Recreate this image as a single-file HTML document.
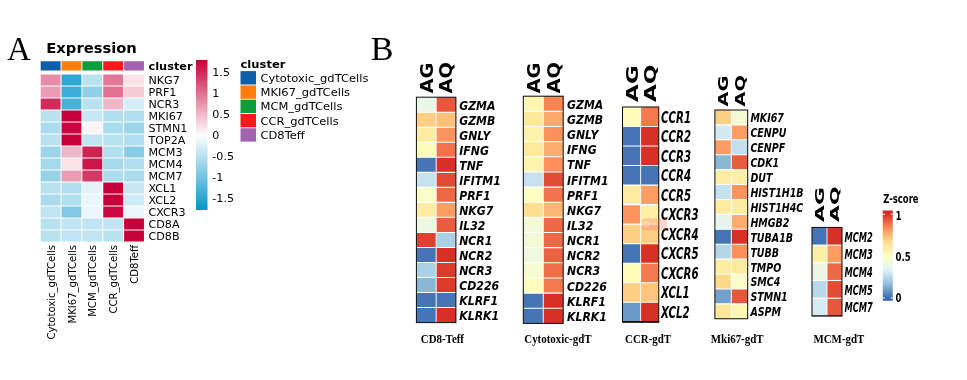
<!DOCTYPE html>
<html lang="en"><head><meta charset="utf-8"><title>Figure</title>
<style>
html,body{margin:0;padding:0;background:#fff;}
body{width:967px;height:380px;overflow:hidden;}
svg{display:block;}
text{white-space:pre;}
</style></head><body>
<svg width="967" height="380" viewBox="0 0 967 380">
<rect width="967" height="380" fill="#ffffff"/>
<text transform="translate(6.90,59.60)" font-family='"Liberation Serif", "DejaVu Serif", serif' font-size="33" font-weight="normal" font-style="normal" text-anchor="start" fill="#000" >A</text>
<text transform="translate(46.30,52.50) scale(1.0750,1)" font-family='"DejaVu Sans", "Liberation Sans", sans-serif' font-size="13.7" font-weight="bold" font-style="normal" text-anchor="start" fill="#000" >Expression</text>
<rect x="40.70" y="61.25" width="19.85" height="9.25" fill="#0e5fa9" />
<rect x="61.55" y="61.25" width="19.85" height="9.25" fill="#ff7f0e" />
<rect x="82.40" y="61.25" width="19.85" height="9.25" fill="#0f9d3c" />
<rect x="103.25" y="61.25" width="19.85" height="9.25" fill="#fa1a1c" />
<rect x="124.10" y="61.25" width="19.85" height="9.25" fill="#a362b0" />
<text transform="translate(148.50,69.90) scale(1.0500,1)" font-family='"DejaVu Sans", "Liberation Sans", sans-serif' font-size="10.8" font-weight="bold" font-style="normal" text-anchor="start" fill="#000" >cluster</text>
<rect x="40.70" y="74.50" width="19.85" height="11.00" fill="#e68ea7" />
<rect x="61.55" y="74.50" width="19.85" height="11.00" fill="#2ea7d3" />
<rect x="82.40" y="74.50" width="19.85" height="11.00" fill="#b9e2f0" />
<rect x="103.25" y="74.50" width="19.85" height="11.00" fill="#e17896" />
<rect x="124.10" y="74.50" width="19.85" height="11.00" fill="#f9e3e9" />
<text transform="translate(148.50,84.10) scale(1.0300,1)" font-family='"DejaVu Sans", "Liberation Sans", sans-serif' font-size="10.8" font-weight="normal" font-style="normal" text-anchor="start" fill="#000" >NKG7</text>
<rect x="40.70" y="86.50" width="19.85" height="11.00" fill="#e99cb2" />
<rect x="61.55" y="86.50" width="19.85" height="11.00" fill="#3cadd6" />
<rect x="82.40" y="86.50" width="19.85" height="11.00" fill="#8fd0e7" />
<rect x="103.25" y="86.50" width="19.85" height="11.00" fill="#e07191" />
<rect x="124.10" y="86.50" width="19.85" height="11.00" fill="#f4cdd8" />
<text transform="translate(148.50,96.10) scale(1.0300,1)" font-family='"DejaVu Sans", "Liberation Sans", sans-serif' font-size="10.8" font-weight="normal" font-style="normal" text-anchor="start" fill="#000" >PRF1</text>
<rect x="40.70" y="98.50" width="19.85" height="11.00" fill="#d02b5a" />
<rect x="61.55" y="98.50" width="19.85" height="11.00" fill="#4ab2d9" />
<rect x="82.40" y="98.50" width="19.85" height="11.00" fill="#b9e2f0" />
<rect x="103.25" y="98.50" width="19.85" height="11.00" fill="#efb8c8" />
<rect x="124.10" y="98.50" width="19.85" height="11.00" fill="#d5edf6" />
<text transform="translate(148.50,108.10) scale(1.0300,1)" font-family='"DejaVu Sans", "Liberation Sans", sans-serif' font-size="10.8" font-weight="normal" font-style="normal" text-anchor="start" fill="#000" >NCR3</text>
<rect x="40.70" y="110.50" width="19.85" height="11.00" fill="#b9e2f0" />
<rect x="61.55" y="110.50" width="19.85" height="11.00" fill="#c70039" />
<rect x="82.40" y="110.50" width="19.85" height="11.00" fill="#c7e7f3" />
<rect x="103.25" y="110.50" width="19.85" height="11.00" fill="#b2dfef" />
<rect x="124.10" y="110.50" width="19.85" height="11.00" fill="#b2dfef" />
<text transform="translate(148.50,120.10) scale(1.0300,1)" font-family='"DejaVu Sans", "Liberation Sans", sans-serif' font-size="10.8" font-weight="normal" font-style="normal" text-anchor="start" fill="#000" >MKI67</text>
<rect x="40.70" y="122.50" width="19.85" height="11.00" fill="#abdced" />
<rect x="61.55" y="122.50" width="19.85" height="11.00" fill="#c9073e" />
<rect x="82.40" y="122.50" width="19.85" height="11.00" fill="#fdf4f6" />
<rect x="103.25" y="122.50" width="19.85" height="11.00" fill="#abdced" />
<rect x="124.10" y="122.50" width="19.85" height="11.00" fill="#9dd6ea" />
<text transform="translate(148.50,132.10) scale(1.0300,1)" font-family='"DejaVu Sans", "Liberation Sans", sans-serif' font-size="10.8" font-weight="normal" font-style="normal" text-anchor="start" fill="#000" >STMN1</text>
<rect x="40.70" y="134.50" width="19.85" height="11.00" fill="#b9e2f0" />
<rect x="61.55" y="134.50" width="19.85" height="11.00" fill="#c70039" />
<rect x="82.40" y="134.50" width="19.85" height="11.00" fill="#c0e4f2" />
<rect x="103.25" y="134.50" width="19.85" height="11.00" fill="#b9e2f0" />
<rect x="124.10" y="134.50" width="19.85" height="11.00" fill="#b2dfef" />
<text transform="translate(148.50,144.10) scale(1.0300,1)" font-family='"DejaVu Sans", "Liberation Sans", sans-serif' font-size="10.8" font-weight="normal" font-style="normal" text-anchor="start" fill="#000" >TOP2A</text>
<rect x="40.70" y="146.50" width="19.85" height="11.00" fill="#9dd6ea" />
<rect x="61.55" y="146.50" width="19.85" height="11.00" fill="#efb8c8" />
<rect x="82.40" y="146.50" width="19.85" height="11.00" fill="#cf2354" />
<rect x="103.25" y="146.50" width="19.85" height="11.00" fill="#b2dfef" />
<rect x="124.10" y="146.50" width="19.85" height="11.00" fill="#88cde6" />
<text transform="translate(148.50,156.10) scale(1.0300,1)" font-family='"DejaVu Sans", "Liberation Sans", sans-serif' font-size="10.8" font-weight="normal" font-style="normal" text-anchor="start" fill="#000" >MCM3</text>
<rect x="40.70" y="158.50" width="19.85" height="11.00" fill="#a4d9ec" />
<rect x="61.55" y="158.50" width="19.85" height="11.00" fill="#f9e3e9" />
<rect x="82.40" y="158.50" width="19.85" height="11.00" fill="#cc154a" />
<rect x="103.25" y="158.50" width="19.85" height="11.00" fill="#a4d9ec" />
<rect x="124.10" y="158.50" width="19.85" height="11.00" fill="#b2dfef" />
<text transform="translate(148.50,168.10) scale(1.0300,1)" font-family='"DejaVu Sans", "Liberation Sans", sans-serif' font-size="10.8" font-weight="normal" font-style="normal" text-anchor="start" fill="#000" >MCM4</text>
<rect x="40.70" y="170.50" width="19.85" height="11.00" fill="#96d3e9" />
<rect x="61.55" y="170.50" width="19.85" height="11.00" fill="#e99cb2" />
<rect x="82.40" y="170.50" width="19.85" height="11.00" fill="#d33965" />
<rect x="103.25" y="170.50" width="19.85" height="11.00" fill="#abdced" />
<rect x="124.10" y="170.50" width="19.85" height="11.00" fill="#abdced" />
<text transform="translate(148.50,180.10) scale(1.0300,1)" font-family='"DejaVu Sans", "Liberation Sans", sans-serif' font-size="10.8" font-weight="normal" font-style="normal" text-anchor="start" fill="#000" >MCM7</text>
<rect x="40.70" y="182.50" width="19.85" height="11.00" fill="#b9e2f0" />
<rect x="61.55" y="182.50" width="19.85" height="11.00" fill="#b2dfef" />
<rect x="82.40" y="182.50" width="19.85" height="11.00" fill="#e3f3f9" />
<rect x="103.25" y="182.50" width="19.85" height="11.00" fill="#c70039" />
<rect x="124.10" y="182.50" width="19.85" height="11.00" fill="#c7e7f3" />
<text transform="translate(148.50,192.10) scale(1.0300,1)" font-family='"DejaVu Sans", "Liberation Sans", sans-serif' font-size="10.8" font-weight="normal" font-style="normal" text-anchor="start" fill="#000" >XCL1</text>
<rect x="40.70" y="194.50" width="19.85" height="11.00" fill="#abdced" />
<rect x="61.55" y="194.50" width="19.85" height="11.00" fill="#b2dfef" />
<rect x="82.40" y="194.50" width="19.85" height="11.00" fill="#eaf6fb" />
<rect x="103.25" y="194.50" width="19.85" height="11.00" fill="#c70039" />
<rect x="124.10" y="194.50" width="19.85" height="11.00" fill="#ceeaf5" />
<text transform="translate(148.50,204.10) scale(1.0300,1)" font-family='"DejaVu Sans", "Liberation Sans", sans-serif' font-size="10.8" font-weight="normal" font-style="normal" text-anchor="start" fill="#000" >XCL2</text>
<rect x="40.70" y="206.50" width="19.85" height="11.00" fill="#c0e4f2" />
<rect x="61.55" y="206.50" width="19.85" height="11.00" fill="#82cae4" />
<rect x="82.40" y="206.50" width="19.85" height="11.00" fill="#eaf6fb" />
<rect x="103.25" y="206.50" width="19.85" height="11.00" fill="#c9073e" />
<rect x="124.10" y="206.50" width="19.85" height="11.00" fill="#eaf6fb" />
<text transform="translate(148.50,216.10) scale(1.0300,1)" font-family='"DejaVu Sans", "Liberation Sans", sans-serif' font-size="10.8" font-weight="normal" font-style="normal" text-anchor="start" fill="#000" >CXCR3</text>
<rect x="40.70" y="218.50" width="19.85" height="11.00" fill="#b9e2f0" />
<rect x="61.55" y="218.50" width="19.85" height="11.00" fill="#c0e4f2" />
<rect x="82.40" y="218.50" width="19.85" height="11.00" fill="#c0e4f2" />
<rect x="103.25" y="218.50" width="19.85" height="11.00" fill="#c0e4f2" />
<rect x="124.10" y="218.50" width="19.85" height="11.00" fill="#c70039" />
<text transform="translate(148.50,228.10) scale(1.0300,1)" font-family='"DejaVu Sans", "Liberation Sans", sans-serif' font-size="10.8" font-weight="normal" font-style="normal" text-anchor="start" fill="#000" >CD8A</text>
<rect x="40.70" y="230.50" width="19.85" height="11.00" fill="#b9e2f0" />
<rect x="61.55" y="230.50" width="19.85" height="11.00" fill="#c0e4f2" />
<rect x="82.40" y="230.50" width="19.85" height="11.00" fill="#c0e4f2" />
<rect x="103.25" y="230.50" width="19.85" height="11.00" fill="#b9e2f0" />
<rect x="124.10" y="230.50" width="19.85" height="11.00" fill="#c70039" />
<text transform="translate(148.50,240.10) scale(1.0300,1)" font-family='"DejaVu Sans", "Liberation Sans", sans-serif' font-size="10.8" font-weight="normal" font-style="normal" text-anchor="start" fill="#000" >CD8B</text>
<text transform="translate(54.73,245.00) rotate(-90) scale(1.0500,1)" font-family='"DejaVu Sans", "Liberation Sans", sans-serif' font-size="9.6" font-weight="normal" font-style="normal" text-anchor="end" fill="#000" >Cytotoxic_gdTCells</text>
<text transform="translate(75.58,245.00) rotate(-90) scale(1.0500,1)" font-family='"DejaVu Sans", "Liberation Sans", sans-serif' font-size="9.6" font-weight="normal" font-style="normal" text-anchor="end" fill="#000" >MKI67_gdTCells</text>
<text transform="translate(96.42,245.00) rotate(-90) scale(1.0500,1)" font-family='"DejaVu Sans", "Liberation Sans", sans-serif' font-size="9.6" font-weight="normal" font-style="normal" text-anchor="end" fill="#000" >MCM_gdTCells</text>
<text transform="translate(117.27,245.00) rotate(-90) scale(1.0500,1)" font-family='"DejaVu Sans", "Liberation Sans", sans-serif' font-size="9.6" font-weight="normal" font-style="normal" text-anchor="end" fill="#000" >CCR_gdTCells</text>
<text transform="translate(138.12,245.00) rotate(-90) scale(1.0500,1)" font-family='"DejaVu Sans", "Liberation Sans", sans-serif' font-size="9.6" font-weight="normal" font-style="normal" text-anchor="end" fill="#000" >CD8Teff</text>
<defs><linearGradient id="ga" x1="0" y1="0" x2="0" y2="1"><stop offset="0" stop-color="#c70039"/><stop offset="0.5" stop-color="#ffffff"/><stop offset="1" stop-color="#0495ca"/></linearGradient></defs>
<rect x="196.00" y="60.00" width="11.50" height="150.00" fill="url(#ga)" />
<text transform="translate(212.30,76.30) scale(1.0300,1)" font-family='"DejaVu Sans", "Liberation Sans", sans-serif' font-size="10.8" font-weight="normal" font-style="normal" text-anchor="start" fill="#000" >1.5</text>
<text transform="translate(212.30,97.30) scale(1.0300,1)" font-family='"DejaVu Sans", "Liberation Sans", sans-serif' font-size="10.8" font-weight="normal" font-style="normal" text-anchor="start" fill="#000" >1</text>
<text transform="translate(212.30,118.30) scale(1.0300,1)" font-family='"DejaVu Sans", "Liberation Sans", sans-serif' font-size="10.8" font-weight="normal" font-style="normal" text-anchor="start" fill="#000" >0.5</text>
<text transform="translate(212.30,139.20) scale(1.0300,1)" font-family='"DejaVu Sans", "Liberation Sans", sans-serif' font-size="10.8" font-weight="normal" font-style="normal" text-anchor="start" fill="#000" >0</text>
<text transform="translate(212.30,160.10) scale(1.0300,1)" font-family='"DejaVu Sans", "Liberation Sans", sans-serif' font-size="10.8" font-weight="normal" font-style="normal" text-anchor="start" fill="#000" >-0.5</text>
<text transform="translate(212.30,181.10) scale(1.0300,1)" font-family='"DejaVu Sans", "Liberation Sans", sans-serif' font-size="10.8" font-weight="normal" font-style="normal" text-anchor="start" fill="#000" >-1</text>
<text transform="translate(212.30,202.10) scale(1.0300,1)" font-family='"DejaVu Sans", "Liberation Sans", sans-serif' font-size="10.8" font-weight="normal" font-style="normal" text-anchor="start" fill="#000" >-1.5</text>
<text transform="translate(240.50,67.50) scale(1.0700,1)" font-family='"DejaVu Sans", "Liberation Sans", sans-serif' font-size="10.8" font-weight="bold" font-style="normal" text-anchor="start" fill="#000" >cluster</text>
<rect x="240.50" y="71.10" width="15.50" height="13.40" fill="#0e5fa9" />
<text transform="translate(260.50,81.85) scale(1.0650,1)" font-family='"DejaVu Sans", "Liberation Sans", sans-serif' font-size="10.8" font-weight="normal" font-style="normal" text-anchor="start" fill="#000" >Cytotoxic_gdTCells</text>
<rect x="240.50" y="85.38" width="15.50" height="13.40" fill="#ff7f0e" />
<text transform="translate(260.50,96.17) scale(1.0650,1)" font-family='"DejaVu Sans", "Liberation Sans", sans-serif' font-size="10.8" font-weight="normal" font-style="normal" text-anchor="start" fill="#000" >MKI67_gdTCells</text>
<rect x="240.50" y="99.66" width="15.50" height="13.40" fill="#0f9d3c" />
<text transform="translate(260.50,110.49) scale(1.0650,1)" font-family='"DejaVu Sans", "Liberation Sans", sans-serif' font-size="10.8" font-weight="normal" font-style="normal" text-anchor="start" fill="#000" >MCM_gdTCells</text>
<rect x="240.50" y="113.94" width="15.50" height="13.40" fill="#fa1a1c" />
<text transform="translate(260.50,124.81) scale(1.0650,1)" font-family='"DejaVu Sans", "Liberation Sans", sans-serif' font-size="10.8" font-weight="normal" font-style="normal" text-anchor="start" fill="#000" >CCR_gdTCells</text>
<rect x="240.50" y="128.22" width="15.50" height="13.40" fill="#a362b0" />
<text transform="translate(260.50,139.13) scale(1.0650,1)" font-family='"DejaVu Sans", "Liberation Sans", sans-serif' font-size="10.8" font-weight="normal" font-style="normal" text-anchor="start" fill="#000" >CD8Teff</text>
<text transform="translate(370.80,60.20)" font-family='"Liberation Serif", "DejaVu Serif", serif' font-size="34" font-weight="normal" font-style="normal" text-anchor="start" fill="#000" >B</text>
<rect x="416.40" y="97.20" width="19.75" height="15.03" fill="#e9f6e8" />
<rect x="436.15" y="97.20" width="19.75" height="15.03" fill="#e7573c" />
<rect x="416.40" y="112.23" width="19.75" height="15.03" fill="#fecf85" />
<rect x="436.15" y="112.23" width="19.75" height="15.03" fill="#fdc07b" />
<rect x="416.40" y="127.25" width="19.75" height="15.03" fill="#feeca3" />
<rect x="436.15" y="127.25" width="19.75" height="15.03" fill="#fc945d" />
<rect x="416.40" y="142.28" width="19.75" height="15.03" fill="#fffbb9" />
<rect x="436.15" y="142.28" width="19.75" height="15.03" fill="#f2734b" />
<rect x="416.40" y="157.31" width="19.75" height="15.03" fill="#4575b4" />
<rect x="436.15" y="157.31" width="19.75" height="15.03" fill="#d73027" />
<rect x="416.40" y="172.33" width="19.75" height="15.03" fill="#c7e2ef" />
<rect x="436.15" y="172.33" width="19.75" height="15.03" fill="#e24c36" />
<rect x="416.40" y="187.36" width="19.75" height="15.03" fill="#f9fdc9" />
<rect x="436.15" y="187.36" width="19.75" height="15.03" fill="#ed6845" />
<rect x="416.40" y="202.39" width="19.75" height="15.03" fill="#feeca3" />
<rect x="436.15" y="202.39" width="19.75" height="15.03" fill="#fc9e64" />
<rect x="416.40" y="217.41" width="19.75" height="15.03" fill="#ecf8e1" />
<rect x="436.15" y="217.41" width="19.75" height="15.03" fill="#e95d3f" />
<rect x="416.40" y="232.44" width="19.75" height="15.03" fill="#de4130" />
<rect x="436.15" y="232.44" width="19.75" height="15.03" fill="#aad0e4" />
<rect x="416.40" y="247.47" width="19.75" height="15.03" fill="#4575b4" />
<rect x="436.15" y="247.47" width="19.75" height="15.03" fill="#d73027" />
<rect x="416.40" y="262.49" width="19.75" height="15.03" fill="#aad0e4" />
<rect x="436.15" y="262.49" width="19.75" height="15.03" fill="#db3b2d" />
<rect x="416.40" y="277.52" width="19.75" height="15.03" fill="#89b8d7" />
<rect x="436.15" y="277.52" width="19.75" height="15.03" fill="#db3b2d" />
<rect x="416.40" y="292.55" width="19.75" height="15.03" fill="#4575b4" />
<rect x="436.15" y="292.55" width="19.75" height="15.03" fill="#4575b4" />
<rect x="416.40" y="307.57" width="19.75" height="15.03" fill="#4575b4" />
<rect x="436.15" y="307.57" width="19.75" height="15.03" fill="#d73027" />
<line x1="416.4" x2="455.9" y1="112.23" y2="112.23" stroke="#fff" stroke-width="1.1"/>
<line x1="416.4" x2="455.9" y1="127.25" y2="127.25" stroke="#fff" stroke-width="1.1"/>
<line x1="416.4" x2="455.9" y1="142.28" y2="142.28" stroke="#fff" stroke-width="1.1"/>
<line x1="416.4" x2="455.9" y1="157.31" y2="157.31" stroke="#fff" stroke-width="1.1"/>
<line x1="416.4" x2="455.9" y1="172.33" y2="172.33" stroke="#fff" stroke-width="1.1"/>
<line x1="416.4" x2="455.9" y1="187.36" y2="187.36" stroke="#fff" stroke-width="1.1"/>
<line x1="416.4" x2="455.9" y1="202.39" y2="202.39" stroke="#fff" stroke-width="1.1"/>
<line x1="416.4" x2="455.9" y1="217.41" y2="217.41" stroke="#fff" stroke-width="1.1"/>
<line x1="416.4" x2="455.9" y1="232.44" y2="232.44" stroke="#fff" stroke-width="1.1"/>
<line x1="416.4" x2="455.9" y1="247.47" y2="247.47" stroke="#fff" stroke-width="1.1"/>
<line x1="416.4" x2="455.9" y1="262.49" y2="262.49" stroke="#fff" stroke-width="1.1"/>
<line x1="416.4" x2="455.9" y1="277.52" y2="277.52" stroke="#fff" stroke-width="1.1"/>
<line x1="416.4" x2="455.9" y1="292.55" y2="292.55" stroke="#fff" stroke-width="1.1"/>
<line x1="416.4" x2="455.9" y1="307.57" y2="307.57" stroke="#fff" stroke-width="1.1"/>
<line x1="436.15" x2="436.15" y1="97.2" y2="322.6" stroke="#fff" stroke-width="0.9"/>
<rect x="416.4" y="97.2" width="39.5" height="225.40000000000003" fill="none" stroke="#0a0a0a" stroke-width="1"/>
<text transform="translate(459.20,109.68) scale(0.8750,1)" font-family='"DejaVu Sans", "Liberation Sans", sans-serif' font-size="12.5" font-weight="bold" font-style="italic" text-anchor="start" fill="#000" >GZMA</text>
<text transform="translate(459.20,124.70) scale(0.8750,1)" font-family='"DejaVu Sans", "Liberation Sans", sans-serif' font-size="12.5" font-weight="bold" font-style="italic" text-anchor="start" fill="#000" >GZMB</text>
<text transform="translate(459.20,139.73) scale(0.8750,1)" font-family='"DejaVu Sans", "Liberation Sans", sans-serif' font-size="12.5" font-weight="bold" font-style="italic" text-anchor="start" fill="#000" >GNLY</text>
<text transform="translate(459.20,154.76) scale(0.8750,1)" font-family='"DejaVu Sans", "Liberation Sans", sans-serif' font-size="12.5" font-weight="bold" font-style="italic" text-anchor="start" fill="#000" >IFNG</text>
<text transform="translate(459.20,169.78) scale(0.8750,1)" font-family='"DejaVu Sans", "Liberation Sans", sans-serif' font-size="12.5" font-weight="bold" font-style="italic" text-anchor="start" fill="#000" >TNF</text>
<text transform="translate(459.20,184.81) scale(0.8750,1)" font-family='"DejaVu Sans", "Liberation Sans", sans-serif' font-size="12.5" font-weight="bold" font-style="italic" text-anchor="start" fill="#000" >IFITM1</text>
<text transform="translate(459.20,199.84) scale(0.8750,1)" font-family='"DejaVu Sans", "Liberation Sans", sans-serif' font-size="12.5" font-weight="bold" font-style="italic" text-anchor="start" fill="#000" >PRF1</text>
<text transform="translate(459.20,214.86) scale(0.8750,1)" font-family='"DejaVu Sans", "Liberation Sans", sans-serif' font-size="12.5" font-weight="bold" font-style="italic" text-anchor="start" fill="#000" >NKG7</text>
<text transform="translate(459.20,229.89) scale(0.8750,1)" font-family='"DejaVu Sans", "Liberation Sans", sans-serif' font-size="12.5" font-weight="bold" font-style="italic" text-anchor="start" fill="#000" >IL32</text>
<text transform="translate(459.20,244.92) scale(0.8750,1)" font-family='"DejaVu Sans", "Liberation Sans", sans-serif' font-size="12.5" font-weight="bold" font-style="italic" text-anchor="start" fill="#000" >NCR1</text>
<text transform="translate(459.20,259.94) scale(0.8750,1)" font-family='"DejaVu Sans", "Liberation Sans", sans-serif' font-size="12.5" font-weight="bold" font-style="italic" text-anchor="start" fill="#000" >NCR2</text>
<text transform="translate(459.20,274.97) scale(0.8750,1)" font-family='"DejaVu Sans", "Liberation Sans", sans-serif' font-size="12.5" font-weight="bold" font-style="italic" text-anchor="start" fill="#000" >NCR3</text>
<text transform="translate(459.20,290.00) scale(0.8750,1)" font-family='"DejaVu Sans", "Liberation Sans", sans-serif' font-size="12.5" font-weight="bold" font-style="italic" text-anchor="start" fill="#000" >CD226</text>
<text transform="translate(459.20,305.02) scale(0.8750,1)" font-family='"DejaVu Sans", "Liberation Sans", sans-serif' font-size="12.5" font-weight="bold" font-style="italic" text-anchor="start" fill="#000" >KLRF1</text>
<text transform="translate(459.20,320.05) scale(0.8750,1)" font-family='"DejaVu Sans", "Liberation Sans", sans-serif' font-size="12.5" font-weight="bold" font-style="italic" text-anchor="start" fill="#000" >KLRK1</text>
<text transform="translate(432.55,93.30) rotate(-90) scale(1.1200,1)" font-family='"DejaVu Sans", "Liberation Sans", sans-serif' font-size="17.2" font-weight="bold" font-style="normal" text-anchor="start" fill="#000" >AG</text>
<text transform="translate(452.30,93.30) rotate(-90) scale(1.1200,1)" font-family='"DejaVu Sans", "Liberation Sans", sans-serif' font-size="17.2" font-weight="bold" font-style="normal" text-anchor="start" fill="#000" >AQ</text>
<text transform="translate(420.75,343.00) scale(0.9500,1)" font-family='"Liberation Serif", "DejaVu Serif", serif' font-size="11.5" font-weight="bold" font-style="normal" text-anchor="start" fill="#000" >CD8-Teff</text>
<rect x="523.30" y="96.20" width="19.95" height="15.15" fill="#fff6b1" />
<rect x="543.25" y="96.20" width="19.95" height="15.15" fill="#f88454" />
<rect x="523.30" y="111.35" width="19.95" height="15.15" fill="#fee99d" />
<rect x="543.25" y="111.35" width="19.95" height="15.15" fill="#fda86b" />
<rect x="523.30" y="126.49" width="19.95" height="15.15" fill="#fff2ab" />
<rect x="543.25" y="126.49" width="19.95" height="15.15" fill="#fc8f5a" />
<rect x="523.30" y="141.64" width="19.95" height="15.15" fill="#fee99d" />
<rect x="543.25" y="141.64" width="19.95" height="15.15" fill="#fdad6e" />
<rect x="523.30" y="156.79" width="19.95" height="15.15" fill="#fff4ae" />
<rect x="543.25" y="156.79" width="19.95" height="15.15" fill="#fc8f5a" />
<rect x="523.30" y="171.93" width="19.95" height="15.15" fill="#c7e2ef" />
<rect x="543.25" y="171.93" width="19.95" height="15.15" fill="#e24c36" />
<rect x="523.30" y="187.08" width="19.95" height="15.15" fill="#fdfec2" />
<rect x="543.25" y="187.08" width="19.95" height="15.15" fill="#f2734b" />
<rect x="523.30" y="202.23" width="19.95" height="15.15" fill="#fede8f" />
<rect x="543.25" y="202.23" width="19.95" height="15.15" fill="#fdb674" />
<rect x="523.30" y="217.37" width="19.95" height="15.15" fill="#f2fad7" />
<rect x="543.25" y="217.37" width="19.95" height="15.15" fill="#ed6845" />
<rect x="523.30" y="232.52" width="19.95" height="15.15" fill="#f4fbd4" />
<rect x="543.25" y="232.52" width="19.95" height="15.15" fill="#ed6845" />
<rect x="523.30" y="247.67" width="19.95" height="15.15" fill="#eef9de" />
<rect x="543.25" y="247.67" width="19.95" height="15.15" fill="#eb6242" />
<rect x="523.30" y="262.81" width="19.95" height="15.15" fill="#f6fbd0" />
<rect x="543.25" y="262.81" width="19.95" height="15.15" fill="#ef6d48" />
<rect x="523.30" y="277.96" width="19.95" height="15.15" fill="#fffdbc" />
<rect x="543.25" y="277.96" width="19.95" height="15.15" fill="#f4794e" />
<rect x="523.30" y="293.11" width="19.95" height="15.15" fill="#4575b4" />
<rect x="543.25" y="293.11" width="19.95" height="15.15" fill="#d73027" />
<rect x="523.30" y="308.25" width="19.95" height="15.15" fill="#4575b4" />
<rect x="543.25" y="308.25" width="19.95" height="15.15" fill="#d73027" />
<line x1="523.3" x2="563.2" y1="111.35" y2="111.35" stroke="#fff" stroke-width="1.1"/>
<line x1="523.3" x2="563.2" y1="126.49" y2="126.49" stroke="#fff" stroke-width="1.1"/>
<line x1="523.3" x2="563.2" y1="141.64" y2="141.64" stroke="#fff" stroke-width="1.1"/>
<line x1="523.3" x2="563.2" y1="156.79" y2="156.79" stroke="#fff" stroke-width="1.1"/>
<line x1="523.3" x2="563.2" y1="171.93" y2="171.93" stroke="#fff" stroke-width="1.1"/>
<line x1="523.3" x2="563.2" y1="187.08" y2="187.08" stroke="#fff" stroke-width="1.1"/>
<line x1="523.3" x2="563.2" y1="202.23" y2="202.23" stroke="#fff" stroke-width="1.1"/>
<line x1="523.3" x2="563.2" y1="217.37" y2="217.37" stroke="#fff" stroke-width="1.1"/>
<line x1="523.3" x2="563.2" y1="232.52" y2="232.52" stroke="#fff" stroke-width="1.1"/>
<line x1="523.3" x2="563.2" y1="247.67" y2="247.67" stroke="#fff" stroke-width="1.1"/>
<line x1="523.3" x2="563.2" y1="262.81" y2="262.81" stroke="#fff" stroke-width="1.1"/>
<line x1="523.3" x2="563.2" y1="277.96" y2="277.96" stroke="#fff" stroke-width="1.1"/>
<line x1="523.3" x2="563.2" y1="293.11" y2="293.11" stroke="#fff" stroke-width="1.1"/>
<line x1="523.3" x2="563.2" y1="308.25" y2="308.25" stroke="#fff" stroke-width="1.1"/>
<line x1="543.25" x2="543.25" y1="96.2" y2="323.4" stroke="#fff" stroke-width="0.9"/>
<rect x="523.3" y="96.2" width="39.90000000000009" height="227.2" fill="none" stroke="#0a0a0a" stroke-width="1"/>
<text transform="translate(567.00,108.84) scale(0.8750,1)" font-family='"DejaVu Sans", "Liberation Sans", sans-serif' font-size="12.5" font-weight="bold" font-style="italic" text-anchor="start" fill="#000" >GZMA</text>
<text transform="translate(567.00,123.98) scale(0.8750,1)" font-family='"DejaVu Sans", "Liberation Sans", sans-serif' font-size="12.5" font-weight="bold" font-style="italic" text-anchor="start" fill="#000" >GZMB</text>
<text transform="translate(567.00,139.13) scale(0.8750,1)" font-family='"DejaVu Sans", "Liberation Sans", sans-serif' font-size="12.5" font-weight="bold" font-style="italic" text-anchor="start" fill="#000" >GNLY</text>
<text transform="translate(567.00,154.28) scale(0.8750,1)" font-family='"DejaVu Sans", "Liberation Sans", sans-serif' font-size="12.5" font-weight="bold" font-style="italic" text-anchor="start" fill="#000" >IFNG</text>
<text transform="translate(567.00,169.42) scale(0.8750,1)" font-family='"DejaVu Sans", "Liberation Sans", sans-serif' font-size="12.5" font-weight="bold" font-style="italic" text-anchor="start" fill="#000" >TNF</text>
<text transform="translate(567.00,184.57) scale(0.8750,1)" font-family='"DejaVu Sans", "Liberation Sans", sans-serif' font-size="12.5" font-weight="bold" font-style="italic" text-anchor="start" fill="#000" >IFITM1</text>
<text transform="translate(567.00,199.72) scale(0.8750,1)" font-family='"DejaVu Sans", "Liberation Sans", sans-serif' font-size="12.5" font-weight="bold" font-style="italic" text-anchor="start" fill="#000" >PRF1</text>
<text transform="translate(567.00,214.86) scale(0.8750,1)" font-family='"DejaVu Sans", "Liberation Sans", sans-serif' font-size="12.5" font-weight="bold" font-style="italic" text-anchor="start" fill="#000" >NKG7</text>
<text transform="translate(567.00,230.01) scale(0.8750,1)" font-family='"DejaVu Sans", "Liberation Sans", sans-serif' font-size="12.5" font-weight="bold" font-style="italic" text-anchor="start" fill="#000" >IL32</text>
<text transform="translate(567.00,245.16) scale(0.8750,1)" font-family='"DejaVu Sans", "Liberation Sans", sans-serif' font-size="12.5" font-weight="bold" font-style="italic" text-anchor="start" fill="#000" >NCR1</text>
<text transform="translate(567.00,260.30) scale(0.8750,1)" font-family='"DejaVu Sans", "Liberation Sans", sans-serif' font-size="12.5" font-weight="bold" font-style="italic" text-anchor="start" fill="#000" >NCR2</text>
<text transform="translate(567.00,275.45) scale(0.8750,1)" font-family='"DejaVu Sans", "Liberation Sans", sans-serif' font-size="12.5" font-weight="bold" font-style="italic" text-anchor="start" fill="#000" >NCR3</text>
<text transform="translate(567.00,290.60) scale(0.8750,1)" font-family='"DejaVu Sans", "Liberation Sans", sans-serif' font-size="12.5" font-weight="bold" font-style="italic" text-anchor="start" fill="#000" >CD226</text>
<text transform="translate(567.00,305.74) scale(0.8750,1)" font-family='"DejaVu Sans", "Liberation Sans", sans-serif' font-size="12.5" font-weight="bold" font-style="italic" text-anchor="start" fill="#000" >KLRF1</text>
<text transform="translate(567.00,320.89) scale(0.8750,1)" font-family='"DejaVu Sans", "Liberation Sans", sans-serif' font-size="12.5" font-weight="bold" font-style="italic" text-anchor="start" fill="#000" >KLRK1</text>
<text transform="translate(539.55,93.30) rotate(-90) scale(1.1200,1)" font-family='"DejaVu Sans", "Liberation Sans", sans-serif' font-size="17.2" font-weight="bold" font-style="normal" text-anchor="start" fill="#000" >AG</text>
<text transform="translate(559.50,93.30) rotate(-90) scale(1.1200,1)" font-family='"DejaVu Sans", "Liberation Sans", sans-serif' font-size="17.2" font-weight="bold" font-style="normal" text-anchor="start" fill="#000" >AQ</text>
<text transform="translate(524.25,343.00) scale(0.9500,1)" font-family='"Liberation Serif", "DejaVu Serif", serif' font-size="11.5" font-weight="bold" font-style="normal" text-anchor="start" fill="#000" >Cytotoxic-gdT</text>
<rect x="622.50" y="107.00" width="18.12" height="19.52" fill="#fffbb9" />
<rect x="640.62" y="107.00" width="18.12" height="19.52" fill="#f4794e" />
<rect x="622.50" y="126.52" width="18.12" height="19.52" fill="#4575b4" />
<rect x="640.62" y="126.52" width="18.12" height="19.52" fill="#d73027" />
<rect x="622.50" y="146.05" width="18.12" height="19.52" fill="#4575b4" />
<rect x="640.62" y="146.05" width="18.12" height="19.52" fill="#d73027" />
<rect x="622.50" y="165.57" width="18.12" height="19.52" fill="#4575b4" />
<rect x="640.62" y="165.57" width="18.12" height="19.52" fill="#4575b4" />
<rect x="622.50" y="185.09" width="18.12" height="19.52" fill="#feeca3" />
<rect x="640.62" y="185.09" width="18.12" height="19.52" fill="#fc9e64" />
<rect x="622.50" y="204.61" width="18.12" height="19.52" fill="#fc945d" />
<rect x="640.62" y="204.61" width="18.12" height="19.52" fill="#fff0a8" />
<rect x="622.50" y="224.14" width="18.12" height="19.52" fill="#fecf85" />
<rect x="640.62" y="224.14" width="18.12" height="19.52" fill="#fecf85" />
<rect x="622.50" y="243.66" width="18.12" height="19.52" fill="#4575b4" />
<rect x="640.62" y="243.66" width="18.12" height="19.52" fill="#d73027" />
<rect x="622.50" y="263.18" width="18.12" height="19.52" fill="#fffbb9" />
<rect x="640.62" y="263.18" width="18.12" height="19.52" fill="#f4794e" />
<rect x="622.50" y="282.70" width="18.12" height="19.52" fill="#fecf85" />
<rect x="640.62" y="282.70" width="18.12" height="19.52" fill="#fdc57e" />
<rect x="622.50" y="302.23" width="18.12" height="19.52" fill="#6999c7" />
<rect x="640.62" y="302.23" width="18.12" height="19.52" fill="#d73027" />
<line x1="622.5" x2="658.75" y1="126.52" y2="126.52" stroke="#fff" stroke-width="1.1"/>
<line x1="622.5" x2="658.75" y1="146.05" y2="146.05" stroke="#fff" stroke-width="1.1"/>
<line x1="622.5" x2="658.75" y1="165.57" y2="165.57" stroke="#fff" stroke-width="1.1"/>
<line x1="622.5" x2="658.75" y1="185.09" y2="185.09" stroke="#fff" stroke-width="1.1"/>
<line x1="622.5" x2="658.75" y1="204.61" y2="204.61" stroke="#fff" stroke-width="1.1"/>
<line x1="622.5" x2="658.75" y1="224.14" y2="224.14" stroke="#fff" stroke-width="1.1"/>
<line x1="622.5" x2="658.75" y1="243.66" y2="243.66" stroke="#fff" stroke-width="1.1"/>
<line x1="622.5" x2="658.75" y1="263.18" y2="263.18" stroke="#fff" stroke-width="1.1"/>
<line x1="622.5" x2="658.75" y1="282.70" y2="282.70" stroke="#fff" stroke-width="1.1"/>
<line x1="622.5" x2="658.75" y1="302.23" y2="302.23" stroke="#fff" stroke-width="1.1"/>
<line x1="640.625" x2="640.625" y1="107" y2="321.75" stroke="#fff" stroke-width="0.9"/>
<rect x="622.5" y="107" width="36.25" height="214.75" fill="none" stroke="#0a0a0a" stroke-width="1"/>
<text transform="translate(661.00,122.65) scale(0.6700,1)" font-family='"DejaVu Sans", "Liberation Sans", sans-serif' font-size="15.3" font-weight="bold" font-style="italic" text-anchor="start" fill="#000" >CCR1</text>
<text transform="translate(661.00,142.17) scale(0.6700,1)" font-family='"DejaVu Sans", "Liberation Sans", sans-serif' font-size="15.3" font-weight="bold" font-style="italic" text-anchor="start" fill="#000" >CCR2</text>
<text transform="translate(661.00,161.69) scale(0.6700,1)" font-family='"DejaVu Sans", "Liberation Sans", sans-serif' font-size="15.3" font-weight="bold" font-style="italic" text-anchor="start" fill="#000" >CCR3</text>
<text transform="translate(661.00,181.21) scale(0.6700,1)" font-family='"DejaVu Sans", "Liberation Sans", sans-serif' font-size="15.3" font-weight="bold" font-style="italic" text-anchor="start" fill="#000" >CCR4</text>
<text transform="translate(661.00,200.74) scale(0.6700,1)" font-family='"DejaVu Sans", "Liberation Sans", sans-serif' font-size="15.3" font-weight="bold" font-style="italic" text-anchor="start" fill="#000" >CCR5</text>
<text transform="translate(661.00,220.26) scale(0.6700,1)" font-family='"DejaVu Sans", "Liberation Sans", sans-serif' font-size="15.3" font-weight="bold" font-style="italic" text-anchor="start" fill="#000" >CXCR3</text>
<text transform="translate(661.00,239.78) scale(0.6700,1)" font-family='"DejaVu Sans", "Liberation Sans", sans-serif' font-size="15.3" font-weight="bold" font-style="italic" text-anchor="start" fill="#000" >CXCR4</text>
<text transform="translate(661.00,259.30) scale(0.6700,1)" font-family='"DejaVu Sans", "Liberation Sans", sans-serif' font-size="15.3" font-weight="bold" font-style="italic" text-anchor="start" fill="#000" >CXCR5</text>
<text transform="translate(661.00,278.83) scale(0.6700,1)" font-family='"DejaVu Sans", "Liberation Sans", sans-serif' font-size="15.3" font-weight="bold" font-style="italic" text-anchor="start" fill="#000" >CXCR6</text>
<text transform="translate(661.00,298.35) scale(0.6700,1)" font-family='"DejaVu Sans", "Liberation Sans", sans-serif' font-size="15.3" font-weight="bold" font-style="italic" text-anchor="start" fill="#000" >XCL1</text>
<text transform="translate(661.00,317.87) scale(0.6700,1)" font-family='"DejaVu Sans", "Liberation Sans", sans-serif' font-size="15.3" font-weight="bold" font-style="italic" text-anchor="start" fill="#000" >XCL2</text>
<text transform="translate(637.59,102.00) rotate(-90) scale(1.4000,1)" font-family='"DejaVu Sans", "Liberation Sans", sans-serif' font-size="16.5" font-weight="bold" font-style="normal" text-anchor="start" fill="#000" >AG</text>
<text transform="translate(655.71,102.00) rotate(-90) scale(1.4000,1)" font-family='"DejaVu Sans", "Liberation Sans", sans-serif' font-size="16.5" font-weight="bold" font-style="normal" text-anchor="start" fill="#000" >AQ</text>
<text transform="translate(625.00,343.00) scale(0.9500,1)" font-family='"Liberation Serif", "DejaVu Serif", serif' font-size="11.5" font-weight="bold" font-style="normal" text-anchor="start" fill="#000" >CCR-gdT</text>
<line x1="622" x2="659.25" y1="321.9" y2="321.9" stroke="#000" stroke-width="1.5"/>
<rect x="641.8" y="218.2" width="25" height="12" rx="2.2" fill="#ff6450" opacity="0.28"/>
<circle cx="646.2" cy="224.3" r="2.6" fill="none" stroke="#fff" stroke-width="0.7" opacity="0.7"/>
<rect x="714.90" y="110.00" width="16.40" height="14.91" fill="#fecf85" />
<rect x="731.30" y="110.00" width="16.40" height="14.91" fill="#f4fbd4" />
<rect x="714.90" y="124.91" width="16.40" height="14.91" fill="#d0e9f2" />
<rect x="731.30" y="124.91" width="16.40" height="14.91" fill="#fc9e64" />
<rect x="714.90" y="139.82" width="16.40" height="14.91" fill="#fc9e64" />
<rect x="731.30" y="139.82" width="16.40" height="14.91" fill="#c2dfed" />
<rect x="714.90" y="154.73" width="16.40" height="14.91" fill="#89b8d7" />
<rect x="731.30" y="154.73" width="16.40" height="14.91" fill="#e95d3f" />
<rect x="714.90" y="169.64" width="16.40" height="14.91" fill="#feeca3" />
<rect x="731.30" y="169.64" width="16.40" height="14.91" fill="#fff0a8" />
<rect x="714.90" y="184.55" width="16.40" height="14.91" fill="#c7e2ef" />
<rect x="731.30" y="184.55" width="16.40" height="14.91" fill="#fc945d" />
<rect x="714.90" y="199.46" width="16.40" height="14.91" fill="#feeca3" />
<rect x="731.30" y="199.46" width="16.40" height="14.91" fill="#feeca3" />
<rect x="714.90" y="214.38" width="16.40" height="14.91" fill="#e5f5ef" />
<rect x="731.30" y="214.38" width="16.40" height="14.91" fill="#fdad6e" />
<rect x="714.90" y="229.29" width="16.40" height="14.91" fill="#4575b4" />
<rect x="731.30" y="229.29" width="16.40" height="14.91" fill="#d73027" />
<rect x="714.90" y="244.20" width="16.40" height="14.91" fill="#b4d6e8" />
<rect x="731.30" y="244.20" width="16.40" height="14.91" fill="#fc8f5a" />
<rect x="714.90" y="259.11" width="16.40" height="14.91" fill="#feeca3" />
<rect x="731.30" y="259.11" width="16.40" height="14.91" fill="#fee99d" />
<rect x="714.90" y="274.02" width="16.40" height="14.91" fill="#fed98c" />
<rect x="731.30" y="274.02" width="16.40" height="14.91" fill="#f9fdc9" />
<rect x="714.90" y="288.93" width="16.40" height="14.91" fill="#73a1cb" />
<rect x="731.30" y="288.93" width="16.40" height="14.91" fill="#e7573c" />
<rect x="714.90" y="303.84" width="16.40" height="14.91" fill="#fee79a" />
<rect x="731.30" y="303.84" width="16.40" height="14.91" fill="#fff6b1" />
<line x1="714.9" x2="747.7" y1="124.91" y2="124.91" stroke="#fff" stroke-width="1.1"/>
<line x1="714.9" x2="747.7" y1="139.82" y2="139.82" stroke="#fff" stroke-width="1.1"/>
<line x1="714.9" x2="747.7" y1="154.73" y2="154.73" stroke="#fff" stroke-width="1.1"/>
<line x1="714.9" x2="747.7" y1="169.64" y2="169.64" stroke="#fff" stroke-width="1.1"/>
<line x1="714.9" x2="747.7" y1="184.55" y2="184.55" stroke="#fff" stroke-width="1.1"/>
<line x1="714.9" x2="747.7" y1="199.46" y2="199.46" stroke="#fff" stroke-width="1.1"/>
<line x1="714.9" x2="747.7" y1="214.38" y2="214.38" stroke="#fff" stroke-width="1.1"/>
<line x1="714.9" x2="747.7" y1="229.29" y2="229.29" stroke="#fff" stroke-width="1.1"/>
<line x1="714.9" x2="747.7" y1="244.20" y2="244.20" stroke="#fff" stroke-width="1.1"/>
<line x1="714.9" x2="747.7" y1="259.11" y2="259.11" stroke="#fff" stroke-width="1.1"/>
<line x1="714.9" x2="747.7" y1="274.02" y2="274.02" stroke="#fff" stroke-width="1.1"/>
<line x1="714.9" x2="747.7" y1="288.93" y2="288.93" stroke="#fff" stroke-width="1.1"/>
<line x1="714.9" x2="747.7" y1="303.84" y2="303.84" stroke="#fff" stroke-width="1.1"/>
<line x1="731.3" x2="731.3" y1="110.0" y2="318.75" stroke="#fff" stroke-width="0.9"/>
<rect x="714.9" y="110.0" width="32.80000000000007" height="208.75" fill="none" stroke="#0a0a0a" stroke-width="1"/>
<text transform="translate(750.40,122.40) scale(0.7300,1)" font-family='"DejaVu Sans", "Liberation Sans", sans-serif' font-size="13.0" font-weight="bold" font-style="italic" text-anchor="start" fill="#000" >MKI67</text>
<text transform="translate(750.40,137.31) scale(0.7300,1)" font-family='"DejaVu Sans", "Liberation Sans", sans-serif' font-size="13.0" font-weight="bold" font-style="italic" text-anchor="start" fill="#000" >CENPU</text>
<text transform="translate(750.40,152.22) scale(0.7300,1)" font-family='"DejaVu Sans", "Liberation Sans", sans-serif' font-size="13.0" font-weight="bold" font-style="italic" text-anchor="start" fill="#000" >CENPF</text>
<text transform="translate(750.40,167.13) scale(0.7300,1)" font-family='"DejaVu Sans", "Liberation Sans", sans-serif' font-size="13.0" font-weight="bold" font-style="italic" text-anchor="start" fill="#000" >CDK1</text>
<text transform="translate(750.40,182.04) scale(0.7300,1)" font-family='"DejaVu Sans", "Liberation Sans", sans-serif' font-size="13.0" font-weight="bold" font-style="italic" text-anchor="start" fill="#000" >DUT</text>
<text transform="translate(750.40,196.95) scale(0.7300,1)" font-family='"DejaVu Sans", "Liberation Sans", sans-serif' font-size="13.0" font-weight="bold" font-style="italic" text-anchor="start" fill="#000" >HIST1H1B</text>
<text transform="translate(750.40,211.86) scale(0.7300,1)" font-family='"DejaVu Sans", "Liberation Sans", sans-serif' font-size="13.0" font-weight="bold" font-style="italic" text-anchor="start" fill="#000" >HIST1H4C</text>
<text transform="translate(750.40,226.78) scale(0.7300,1)" font-family='"DejaVu Sans", "Liberation Sans", sans-serif' font-size="13.0" font-weight="bold" font-style="italic" text-anchor="start" fill="#000" >HMGB2</text>
<text transform="translate(750.40,241.69) scale(0.7300,1)" font-family='"DejaVu Sans", "Liberation Sans", sans-serif' font-size="13.0" font-weight="bold" font-style="italic" text-anchor="start" fill="#000" >TUBA1B</text>
<text transform="translate(750.40,256.60) scale(0.7300,1)" font-family='"DejaVu Sans", "Liberation Sans", sans-serif' font-size="13.0" font-weight="bold" font-style="italic" text-anchor="start" fill="#000" >TUBB</text>
<text transform="translate(750.40,271.51) scale(0.7300,1)" font-family='"DejaVu Sans", "Liberation Sans", sans-serif' font-size="13.0" font-weight="bold" font-style="italic" text-anchor="start" fill="#000" >TMPO</text>
<text transform="translate(750.40,286.42) scale(0.7300,1)" font-family='"DejaVu Sans", "Liberation Sans", sans-serif' font-size="13.0" font-weight="bold" font-style="italic" text-anchor="start" fill="#000" >SMC4</text>
<text transform="translate(750.40,301.33) scale(0.7300,1)" font-family='"DejaVu Sans", "Liberation Sans", sans-serif' font-size="13.0" font-weight="bold" font-style="italic" text-anchor="start" fill="#000" >STMN1</text>
<text transform="translate(750.40,316.24) scale(0.7300,1)" font-family='"DejaVu Sans", "Liberation Sans", sans-serif' font-size="13.0" font-weight="bold" font-style="italic" text-anchor="start" fill="#000" >ASPM</text>
<text transform="translate(728.21,106.40) rotate(-90) scale(1.3800,1)" font-family='"DejaVu Sans", "Liberation Sans", sans-serif' font-size="14" font-weight="bold" font-style="normal" text-anchor="start" fill="#000" >AG</text>
<text transform="translate(744.61,106.40) rotate(-90) scale(1.3800,1)" font-family='"DejaVu Sans", "Liberation Sans", sans-serif' font-size="14" font-weight="bold" font-style="normal" text-anchor="start" fill="#000" >AQ</text>
<text transform="translate(710.80,343.00) scale(0.9500,1)" font-family='"Liberation Serif", "DejaVu Serif", serif' font-size="11.5" font-weight="bold" font-style="normal" text-anchor="start" fill="#000" >Mki67-gdT</text>
<rect x="812.00" y="227.40" width="15.00" height="17.70" fill="#4575b4" />
<rect x="827.00" y="227.40" width="15.00" height="17.70" fill="#d73027" />
<rect x="812.00" y="245.10" width="15.00" height="17.70" fill="#fff0a8" />
<rect x="827.00" y="245.10" width="15.00" height="17.70" fill="#fc9e64" />
<rect x="812.00" y="262.80" width="15.00" height="17.70" fill="#ebf7e5" />
<rect x="827.00" y="262.80" width="15.00" height="17.70" fill="#ed6845" />
<rect x="812.00" y="280.50" width="15.00" height="17.70" fill="#b8d9ea" />
<rect x="827.00" y="280.50" width="15.00" height="17.70" fill="#e24c36" />
<rect x="812.00" y="298.20" width="15.00" height="17.70" fill="#d5ecf4" />
<rect x="827.00" y="298.20" width="15.00" height="17.70" fill="#e7573c" />
<line x1="812" x2="842" y1="245.10" y2="245.10" stroke="#fff" stroke-width="1.1"/>
<line x1="812" x2="842" y1="262.80" y2="262.80" stroke="#fff" stroke-width="1.1"/>
<line x1="812" x2="842" y1="280.50" y2="280.50" stroke="#fff" stroke-width="1.1"/>
<line x1="812" x2="842" y1="298.20" y2="298.20" stroke="#fff" stroke-width="1.1"/>
<line x1="827.0" x2="827.0" y1="227.4" y2="315.9" stroke="#fff" stroke-width="0.9"/>
<rect x="812" y="227.4" width="30" height="88.49999999999997" fill="none" stroke="#0a0a0a" stroke-width="1"/>
<text transform="translate(844.50,241.56) scale(0.5900,1)" font-family='"DejaVu Sans", "Liberation Sans", sans-serif' font-size="14.0" font-weight="bold" font-style="italic" text-anchor="start" fill="#000" >MCM2</text>
<text transform="translate(844.50,259.26) scale(0.5900,1)" font-family='"DejaVu Sans", "Liberation Sans", sans-serif' font-size="14.0" font-weight="bold" font-style="italic" text-anchor="start" fill="#000" >MCM3</text>
<text transform="translate(844.50,276.96) scale(0.5900,1)" font-family='"DejaVu Sans", "Liberation Sans", sans-serif' font-size="14.0" font-weight="bold" font-style="italic" text-anchor="start" fill="#000" >MCM4</text>
<text transform="translate(844.50,294.66) scale(0.5900,1)" font-family='"DejaVu Sans", "Liberation Sans", sans-serif' font-size="14.0" font-weight="bold" font-style="italic" text-anchor="start" fill="#000" >MCM5</text>
<text transform="translate(844.50,312.36) scale(0.5900,1)" font-family='"DejaVu Sans", "Liberation Sans", sans-serif' font-size="14.0" font-weight="bold" font-style="italic" text-anchor="start" fill="#000" >MCM7</text>
<text transform="translate(824.25,221.90) rotate(-90) scale(1.6800,1)" font-family='"DejaVu Sans", "Liberation Sans", sans-serif' font-size="13" font-weight="bold" font-style="normal" text-anchor="start" fill="#000" >AG</text>
<text transform="translate(839.25,221.90) rotate(-90) scale(1.6800,1)" font-family='"DejaVu Sans", "Liberation Sans", sans-serif' font-size="13" font-weight="bold" font-style="normal" text-anchor="start" fill="#000" >AQ</text>
<text transform="translate(813.40,343.00) scale(0.9500,1)" font-family='"Liberation Serif", "DejaVu Serif", serif' font-size="11.5" font-weight="bold" font-style="normal" text-anchor="start" fill="#000" >MCM-gdT</text>
<line x1="811.5" x2="842.5" y1="316.0" y2="316.0" stroke="#000" stroke-width="0.6"/>
<text transform="translate(883.25,202.60) scale(0.6800,1)" font-family='"DejaVu Sans", "Liberation Sans", sans-serif' font-size="12.5" font-weight="bold" font-style="normal" text-anchor="start" fill="#000" >Z-score</text>
<defs><linearGradient id="gb" x1="0" y1="0" x2="0" y2="1"><stop offset="0" stop-color="#cf2a22"/><stop offset="0.0420" stop-color="#d73027"/><stop offset="0.1966" stop-color="#fc8d59"/><stop offset="0.3512" stop-color="#fee090"/><stop offset="0.5058" stop-color="#ffffbf"/><stop offset="0.6603" stop-color="#e0f3f8"/><stop offset="0.8149" stop-color="#91bfdb"/><stop offset="0.9695" stop-color="#3a6bb0"/><stop offset="1" stop-color="#2a5ca8"/></linearGradient></defs>
<rect x="882.75" y="210.50" width="10.00" height="90.25" fill="url(#gb)" />
<line x1="882.75" x2="885" y1="214.3" y2="214.3" stroke="#fff" stroke-width="0.9"/>
<line x1="890.5" x2="892.75" y1="214.3" y2="214.3" stroke="#fff" stroke-width="0.9"/>
<line x1="882.75" x2="885" y1="256.3" y2="256.3" stroke="#fff" stroke-width="0.9"/>
<line x1="890.5" x2="892.75" y1="256.3" y2="256.3" stroke="#fff" stroke-width="0.9"/>
<line x1="882.75" x2="885" y1="298.0" y2="298.0" stroke="#fff" stroke-width="0.9"/>
<line x1="890.5" x2="892.75" y1="298.0" y2="298.0" stroke="#fff" stroke-width="0.9"/>
<text transform="translate(895.50,219.50) scale(0.7200,1)" font-family='"DejaVu Sans", "Liberation Sans", sans-serif' font-size="12" font-weight="bold" font-style="normal" text-anchor="start" fill="#000" >1</text>
<text transform="translate(895.50,260.60) scale(0.7200,1)" font-family='"DejaVu Sans", "Liberation Sans", sans-serif' font-size="12" font-weight="bold" font-style="normal" text-anchor="start" fill="#000" >0.5</text>
<text transform="translate(895.50,302.40) scale(0.7200,1)" font-family='"DejaVu Sans", "Liberation Sans", sans-serif' font-size="12" font-weight="bold" font-style="normal" text-anchor="start" fill="#000" >0</text>
</svg>
</body></html>
